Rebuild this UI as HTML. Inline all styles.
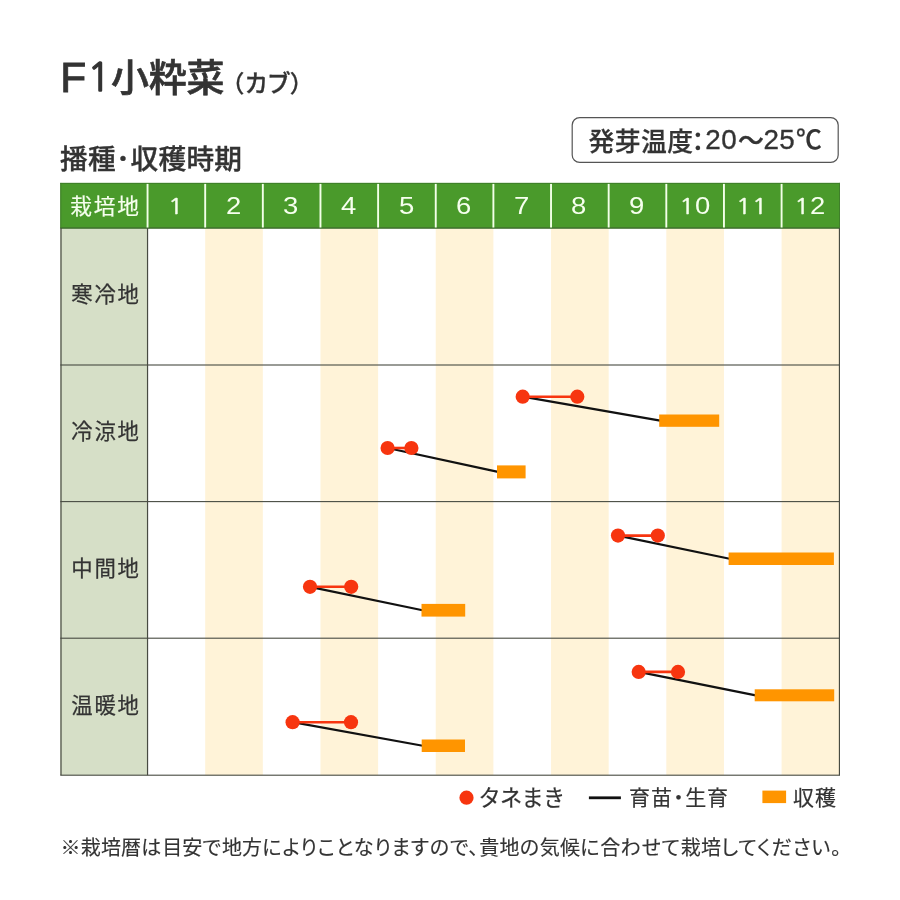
<!DOCTYPE html><html lang="ja"><head><meta charset="utf-8"><title>F1小粋菜 (カブ) 播種・収穫時期</title><style>
html,body{margin:0;padding:0;background:#fff;}
body{width:900px;height:900px;position:relative;overflow:hidden;font-family:"Liberation Sans","Noto Sans CJK JP",sans-serif;color:#333;}
.t{position:absolute;white-space:nowrap;line-height:1;color:#333;}
.jp{font-family:"Noto Sans CJK JP","Liberation Sans",sans-serif;}
.la{font-family:"Liberation Sans","Noto Sans CJK JP",sans-serif;}
.hn{transform:scaleX(1.13);margin-left:-0.6px;letter-spacing:0.3px;color:#f6ffee;font-size:24.3px;text-align:center;width:57.64px;top:193.8px;}
.rl{-webkit-text-stroke:0.25px #333;font-size:21.4px;left:71.3px;letter-spacing:1.7px;}
.one{font-family:NanumGothic,"Liberation Sans",sans-serif;font-size:22.2px;-webkit-text-stroke:0.45px #f6ffee;display:inline-block;width:14.2px;text-align:center;}
.k{letter-spacing:0.2px;}
.lg{-webkit-text-stroke:0.2px #333;font-size:21px;top:785.8px;letter-spacing:0.9px;}
</style></head><body>
<svg width="900" height="900" viewBox="0 0 900 900" style="position:absolute;left:0;top:0">
<rect x="205.19" y="228.0" width="57.64" height="547.20" fill="#fff3d8"/>
<rect x="320.47" y="228.0" width="57.64" height="547.20" fill="#fff3d8"/>
<rect x="435.75" y="228.0" width="57.64" height="547.20" fill="#fff3d8"/>
<rect x="551.03" y="228.0" width="57.64" height="547.20" fill="#fff3d8"/>
<rect x="666.31" y="228.0" width="57.64" height="547.20" fill="#fff3d8"/>
<rect x="781.59" y="228.0" width="57.64" height="547.20" fill="#fff3d8"/>
<rect x="60.3" y="228.0" width="87.25" height="547.20" fill="#d6dfc7"/>
<rect x="60.3" y="182.9" width="779.70" height="45.10" fill="#4a9a2b"/>
<rect x="60.3" y="182.9" width="779.70" height="1" fill="#3f7f2a"/>
<rect x="60.3" y="227.3" width="779.70" height="1.5" fill="#3f6f2e"/>
<rect x="60.3" y="182.9" width="1" height="45.10" fill="#3f7f2a"/>
<rect x="839.0" y="182.9" width="1" height="45.10" fill="#3f7f2a"/>
<rect x="146.60" y="183.9" width="1.9" height="43.60" fill="#f2ffe8"/>
<rect x="204.24" y="183.9" width="1.9" height="43.60" fill="#f2ffe8"/>
<rect x="261.88" y="183.9" width="1.9" height="43.60" fill="#f2ffe8"/>
<rect x="319.52" y="183.9" width="1.9" height="43.60" fill="#f2ffe8"/>
<rect x="377.16" y="183.9" width="1.9" height="43.60" fill="#f2ffe8"/>
<rect x="434.80" y="183.9" width="1.9" height="43.60" fill="#f2ffe8"/>
<rect x="492.44" y="183.9" width="1.9" height="43.60" fill="#f2ffe8"/>
<rect x="550.08" y="183.9" width="1.9" height="43.60" fill="#f2ffe8"/>
<rect x="607.72" y="183.9" width="1.9" height="43.60" fill="#f2ffe8"/>
<rect x="665.36" y="183.9" width="1.9" height="43.60" fill="#f2ffe8"/>
<rect x="723.00" y="183.9" width="1.9" height="43.60" fill="#f2ffe8"/>
<rect x="780.64" y="183.9" width="1.9" height="43.60" fill="#f2ffe8"/>
<rect x="60.3" y="364.45" width="779.70" height="1.1" fill="#484b42"/>
<rect x="60.3" y="501.05" width="779.70" height="1.1" fill="#484b42"/>
<rect x="60.3" y="637.65" width="779.70" height="1.1" fill="#484b42"/>
<rect x="60.3" y="774.65" width="779.70" height="1.1" fill="#484b42"/>
<rect x="60.40" y="228.0" width="1.2" height="547.20" fill="#484b42"/>
<rect x="146.95" y="228.0" width="1.2" height="547.20" fill="#484b42"/>
<rect x="838.85" y="228.0" width="1.15" height="547.20" fill="#484b42"/>
<line x1="522.7" y1="396.7" x2="660.2" y2="420.65" stroke="#111" stroke-width="2.2"/>
<line x1="522.7" y1="396.7" x2="577.3" y2="396.7" stroke="#f7350f" stroke-width="2.6"/>
<circle cx="522.7" cy="396.7" r="7.1" fill="#f7350f"/>
<circle cx="577.3" cy="396.7" r="7.1" fill="#f7350f"/>
<rect x="659.2" y="414.5" width="60.00" height="12.30" fill="#ff9500"/>
<line x1="387.6" y1="448.0" x2="498.0" y2="471.90" stroke="#111" stroke-width="2.2"/>
<line x1="387.6" y1="448.0" x2="411.4" y2="448.0" stroke="#f7350f" stroke-width="2.6"/>
<circle cx="387.6" cy="448.0" r="7.1" fill="#f7350f"/>
<circle cx="411.4" cy="448.0" r="7.1" fill="#f7350f"/>
<rect x="497.0" y="465.4" width="28.60" height="13.00" fill="#ff9500"/>
<line x1="618.0" y1="535.6" x2="729.6" y2="558.75" stroke="#111" stroke-width="2.2"/>
<line x1="618.0" y1="535.6" x2="657.8" y2="535.6" stroke="#f7350f" stroke-width="2.6"/>
<circle cx="618.0" cy="535.6" r="7.1" fill="#f7350f"/>
<circle cx="657.8" cy="535.6" r="7.1" fill="#f7350f"/>
<rect x="728.6" y="552.5" width="105.30" height="12.50" fill="#ff9500"/>
<line x1="310.0" y1="586.8" x2="422.5" y2="610.25" stroke="#111" stroke-width="2.2"/>
<line x1="310.0" y1="586.8" x2="351.2" y2="586.8" stroke="#f7350f" stroke-width="2.6"/>
<circle cx="310.0" cy="586.8" r="7.1" fill="#f7350f"/>
<circle cx="351.2" cy="586.8" r="7.1" fill="#f7350f"/>
<rect x="421.5" y="603.9" width="43.70" height="12.70" fill="#ff9500"/>
<line x1="638.7" y1="671.9" x2="755.7" y2="695.30" stroke="#111" stroke-width="2.2"/>
<line x1="638.7" y1="671.9" x2="678.0" y2="671.9" stroke="#f7350f" stroke-width="2.6"/>
<circle cx="638.7" cy="671.9" r="7.1" fill="#f7350f"/>
<circle cx="678.0" cy="671.9" r="7.1" fill="#f7350f"/>
<rect x="754.7" y="689.3" width="79.50" height="12.00" fill="#ff9500"/>
<line x1="292.6" y1="722.2" x2="422.7" y2="745.75" stroke="#111" stroke-width="2.2"/>
<line x1="292.6" y1="722.2" x2="351.0" y2="722.2" stroke="#f7350f" stroke-width="2.6"/>
<circle cx="292.6" cy="722.2" r="7.1" fill="#f7350f"/>
<circle cx="351.0" cy="722.2" r="7.1" fill="#f7350f"/>
<rect x="421.7" y="739.5" width="43.30" height="12.50" fill="#ff9500"/>
<circle cx="466.5" cy="797.7" r="7.1" fill="#f7350f"/>
<rect x="588.9" y="796.4" width="32" height="2.8" fill="#111"/>
<rect x="762.4" y="790.6" width="23.7" height="12.5" fill="#ff9500"/>
<rect x="572.2" y="117.6" width="266" height="44.8" rx="7.5" ry="7.5" fill="#fff" stroke="#555" stroke-width="1.2"/>
</svg>
<div class="t la" id="tF" style="left:60.3px;top:56.5px;font-size:42.5px;-webkit-text-stroke:0.9px #333;">F</div>
<div class="t" id="t1" style="left:87.3px;top:59.3px;font-size:38.8px;font-family:NanumGothic,&quot;Liberation Sans&quot;,sans-serif;-webkit-text-stroke:1.3px #333;">1</div>
<div class="t jp" id="tK" style="left:111px;top:56px;font-size:38px;font-weight:500;-webkit-text-stroke:0.65px #333;letter-spacing:-0.3px;">小粋菜</div>
<div class="t jp" id="kabu" style="-webkit-text-stroke:0.3px #333;left:231.6px;top:70.6px;font-size:23.6px;font-weight:500;font-feature-settings:&quot;palt&quot;;letter-spacing:1.6px;">（カブ）</div>
<div class="t jp" id="sub" style="left:60px;top:144px;font-size:27.7px;letter-spacing:0.2px;font-weight:500;-webkit-text-stroke:0.35px #333;">播種<span style="margin:0 -3.2px;font-size:21px;position:relative;top:-2.6px;">・</span>収穫時期</div>
<div class="t jp" id="tp1" style="-webkit-text-stroke:0.25px #333;top:126.7px;left:588.4px;font-size:25.8px;font-weight:500;letter-spacing:0.5px;">発芽温度</div>
<div class="t jp" id="tp2" style="-webkit-text-stroke:0.25px #333;top:126.7px;left:685px;font-size:25.8px;font-weight:500;">：</div>
<div class="t la" id="tp3" style="top:126px;left:705.3px;font-size:27.8px;letter-spacing:0.4px;-webkit-text-stroke:0.35px #333;">20</div>
<div class="t jp" id="tp4" style="top:125.7px;left:738px;font-size:25.8px;font-weight:500;-webkit-text-stroke:0.5px #333;">〜</div>
<div class="t la" id="tp5" style="top:126px;left:763.5px;font-size:27.8px;letter-spacing:0.4px;-webkit-text-stroke:0.35px #333;">25</div>
<div class="t jp" id="tp6" style="-webkit-text-stroke:0.25px #333;top:124.9px;left:796px;font-size:25.8px;font-weight:500;">℃</div>
<div class="t jp" id="hl" style="-webkit-text-stroke:0.2px #f6ffee;left:70.2px;top:194.2px;font-size:21.7px;color:#f6ffee;letter-spacing:1.9px;">栽培地</div>
<div class="t la hn" id="hn1" style="left:147.55px;"><span class="one">1</span></div>
<div class="t la hn" id="hn2" style="left:205.19px;">2</div>
<div class="t la hn" id="hn3" style="left:262.83px;">3</div>
<div class="t la hn" id="hn4" style="left:320.47px;">4</div>
<div class="t la hn" id="hn5" style="left:378.11px;">5</div>
<div class="t la hn" id="hn6" style="left:435.75px;">6</div>
<div class="t la hn" id="hn7" style="left:493.39px;">7</div>
<div class="t la hn" id="hn8" style="left:551.03px;">8</div>
<div class="t la hn" id="hn9" style="left:608.67px;">9</div>
<div class="t la hn" id="hn10" style="left:666.31px;"><span class="one">1</span>0</div>
<div class="t la hn" id="hn11" style="left:723.95px;"><span class="one">1</span><span class="one">1</span></div>
<div class="t la hn" id="hn12" style="left:781.59px;"><span class="one">1</span>2</div>
<div class="t jp rl" id="rl0" style="top:281.5px;">寒冷地</div>
<div class="t jp rl" id="rl1" style="top:418.6px;">冷涼地</div>
<div class="t jp rl" id="rl2" style="top:555.9px;">中間地</div>
<div class="t jp rl" id="rl3" style="top:692.5px;">温暖地</div>
<div class="t jp lg" id="lg1" style="left:478.6px;font-size:22.2px;letter-spacing:-0.7px;top:784.8px;">タネまき</div>
<div class="t jp lg" id="lg2" style="left:629px;">育苗<span style="margin:0 -4.8px;">・</span>生育</div>
<div class="t jp lg" id="lg3" style="left:793px;">収穫</div>
<div class="t jp" id="foot" style="-webkit-text-stroke:0.15px #333;left:60.5px;top:836.8px;font-size:20px;letter-spacing:0.83px;font-feature-settings:&quot;palt&quot;;"><span class="k">※栽培暦</span>は<span class="k">目安</span>で<span class="k">地方</span>によりことなりますので、<span class="k">貴地</span>の<span class="k">気候</span>に<span class="k">合</span>わせて<span class="k">栽培</span>してください。</div>
</body></html>
